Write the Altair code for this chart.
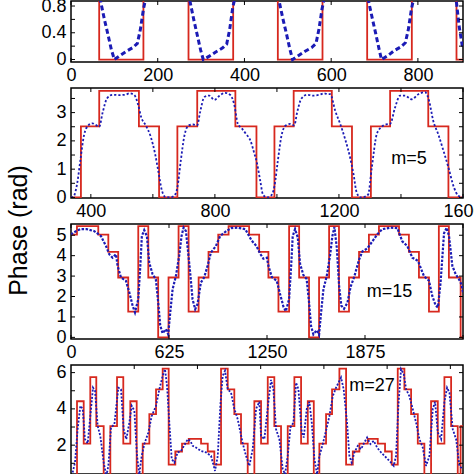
import altair as alt
import pandas as pd

W = 392
RED = "#d7281e"
BLUE = "#1b1bb5"
FONT = "Liberation Sans"

# ---------------- panel 1 ----------------
P1_RED_X = [0, 65, 167, 271, 374, 477, 580, 683, 786, 889, 904]
P1_RED_Y = [1, 0, 1, 0, 1, 0, 1, 0, 1, 0, 0]
P1_BLUE_X = [0, 60, 65, 69, 77, 85, 93, 100, 113, 127, 143, 153, 160, 167, 175,
             266, 271, 275, 283, 291, 299, 305, 319, 333, 349, 359, 366, 373, 381,
             472, 477, 481, 489, 497, 505, 511, 525, 539, 555, 565, 572, 579, 587,
             678, 683, 687, 695, 703, 711, 716, 731, 745, 761, 771, 778, 785, 793,
             884, 889, 895, 902, 904]
P1_BLUE_Y = [1.0, 1.0, 0.97, 0.85, 0.6, 0.38, 0.15, 0.0, 0.06, 0.12, 0.18, 0.24, 0.45, 0.75, 1.0,
             1.0, 0.97, 0.85, 0.6, 0.37, 0.14, 0.0, 0.05, 0.11, 0.17, 0.23, 0.45, 0.78, 1.0,
             1.0, 0.96, 0.84, 0.6, 0.38, 0.15, 0.0, 0.06, 0.12, 0.18, 0.24, 0.46, 0.76, 1.0,
             1.0, 0.97, 0.85, 0.61, 0.38, 0.14, 0.0, 0.06, 0.13, 0.19, 0.25, 0.45, 0.75, 1.0,
             1.0, 0.85, 0.5, 0.22, 0.18]
P1_XLAB = [0, 200, 400, 600, 800]
P1_YLAB = [0, 0.4, 0.8]
P1_YTK = [0, 0.2, 0.4, 0.6, 0.8]

# ---------------- panel 2 ----------------
P2_RED_X = [336, 368, 427, 555, 620, 679, 743, 866, 934, 992, 1054, 1177, 1242, 1303, 1365, 1488, 1553, 1600]
P2_RED_Y = [0, 2.51, 3.77, 2.51, 0, 2.51, 3.77, 2.51, 0, 2.51, 3.77, 2.51, 0, 2.51, 3.77, 2.51, 0, 0]
P2_BLUE_X = [336, 345, 356, 366, 378, 392, 405, 418, 427, 438, 452, 470, 490, 510, 525, 540, 552, 562, 577, 593,
             607, 618, 629, 640, 655, 668,
             679, 690, 702, 716, 730, 743, 752, 766, 782, 798, 815, 832, 850, 862, 874, 886, 900, 915, 926, 936,
             946, 955, 968, 980,
             992, 1003, 1015, 1029, 1043, 1056, 1065, 1079, 1097, 1117, 1137, 1152, 1165, 1172, 1188, 1204, 1220,
             1236, 1247, 1257, 1269, 1282,
             1294, 1306, 1322, 1338, 1352, 1365, 1381, 1397, 1413, 1435, 1456, 1478, 1491, 1504, 1520, 1537, 1553,
             1571, 1585, 1600]
P2_BLUE_Y = [0.0, 0.05, 0.5, 1.3, 2.2, 2.55, 2.62, 2.55, 2.5, 3.0, 3.5, 3.63, 3.62, 3.63, 3.68, 3.62, 3.3, 2.85, 2.55, 2.15,
             1.55, 0.9, 0.25, 0.02, 0.0, 0.05,
             0.35, 1.3, 2.2, 2.55, 2.58, 2.55, 3.0, 3.55, 3.6, 3.45, 3.6, 3.7, 3.62, 3.3, 2.6, 2.45, 2.25, 2.0, 1.6, 1.2,
             0.6, 0.1, 0.0, 0.05,
             0.4, 1.3, 2.2, 2.55, 2.6, 2.55, 3.0, 3.5, 3.63, 3.6, 3.63, 3.68, 3.65, 3.65, 3.06, 2.6, 2.06,
             1.41, 0.82, 0.18, 0.0, 0.02,
             0.1, 1.06, 2.24, 2.5, 2.58, 2.6, 3.18, 3.6, 3.6, 3.47, 3.65, 3.72, 3.4, 2.71, 2.24, 1.65, 1.06,
             0.35, 0.06, 0.0]
P2_XLAB = [400, 800, 1200, 1600]
P2_XTK = [400, 600, 800, 1000, 1200, 1400, 1600]
P2_YLAB = [0, 1, 2, 3]
P2_YTK = [0, 0.5, 1, 1.5, 2, 2.5, 3, 3.5]

# ---------------- panel 3 ----------------
P3_RED_X = [0, 38, 174, 238, 301, 365, 429, 493, 556, 622, 686, 750, 814, 877, 939, 1005, 1136, 1200, 1259, 1323,
            1391, 1455, 1518, 1582, 1646, 1709, 1773, 1837, 1900, 1964, 2092, 2155, 2219, 2283, 2346, 2410, 2485, 2500]
P3_RED_Y = [5.03, 5.45, 5.03, 4.19, 2.93, 1.26, 5.45, 2.93, 0, 2.93, 5.45, 1.26, 2.93, 4.19, 5.03, 5.45, 5.03, 4.19, 2.93, 1.26,
            5.45, 2.93, 0, 2.93, 5.45, 1.26, 2.93, 4.19, 5.03, 5.45, 5.03, 4.19, 2.93, 1.26, 5.45, 2.93, 0, 0]
P3_BLUE_X = [0, 32, 60, 100, 149, 191, 223, 244, 265, 287, 297, 319, 350, 372, 393, 408, 429, 442, 452, 467,
             484, 499, 520, 541, 556, 569, 584, 605, 620, 633, 648, 669, 690, 705, 718, 733, 743, 760, 775, 792,
             807, 828, 849, 871, 892, 924, 951,
             990, 1022, 1062, 1111, 1151, 1183, 1206, 1227, 1249, 1259, 1281, 1312, 1334, 1355, 1370, 1391, 1404, 1414,
             1429, 1446, 1461, 1482, 1503, 1518, 1531, 1546, 1567, 1582, 1595, 1610, 1631, 1652, 1667, 1680, 1695, 1710,
             1724, 1741, 1763, 1784, 1805, 1837, 1858, 1890, 1922, 1954,
             1986, 2039, 2081, 2113, 2145, 2177, 2213, 2251, 2283, 2304, 2326, 2340, 2357, 2379, 2396, 2411, 2432, 2453,
             2474, 2490, 2500]
P3_BLUE_Y = [5.04, 5.2, 5.3, 5.3, 5.2, 4.96, 4.47, 4.07, 3.9, 4.07, 3.5, 2.93, 2.77, 2.2, 1.55, 1.22, 1.87, 3.5, 4.96, 5.25,
             4.96, 3.66, 3.1, 2.85, 1.72, 0.59, 0.2, 0.4, 0.15, 1.22, 2.36, 3.0, 4.0, 4.96, 5.37, 5.2, 4.47, 3.17, 1.87, 1.38,
             1.63, 2.68, 2.93, 3.5, 4.15, 4.47, 4.96,
             5.2, 5.35, 5.37, 5.3, 4.75, 4.47, 4.1, 3.85, 3.9, 3.5, 2.95, 2.77, 2.1, 1.5, 1.28, 1.87, 3.5, 4.96,
             5.3, 4.9, 3.6, 3.05, 2.85, 1.72, 0.55, 0.15, 0.35, 0.12, 1.22, 2.36, 3.0, 4.0, 4.96, 5.4, 4.4, 2.5,
             1.55, 1.4, 1.7, 2.5, 2.93, 3.8, 4.2, 4.36, 4.7, 5.05,
             5.3, 5.37, 5.35, 4.7, 4.47, 3.9, 3.74, 3.0, 2.77, 2.03, 1.55, 1.47, 2.68, 5.1, 5.37, 4.96, 3.5, 3.1,
             2.85, 2.6, 2.2]
P3_XLAB = [0, 625, 1250, 1875]
P3_XTK = [0, 625, 1250, 1875, 2500]
P3_YLAB = [0, 1, 2, 3, 4, 5]

# ---------------- panel 4 ----------------
P4_RED_X = [0, 95, 201, 305, 400, 517, 622, 728, 827, 938, 1039, 1134, 1239, 1345, 1450, 1545, 1650, 1756, 1862, 2057,
            2163, 2267, 2373, 2479, 2583, 2689, 2795, 2900, 3006, 3112, 3216, 3322, 3428, 3533, 3639, 3745, 3840, 3928,
            4034, 4129, 4245, 4351, 4457, 4561, 4694, 4852, 4967, 5073, 5168, 5273, 5379, 5485, 5589, 5695, 5801, 5906,
            6012, 6117, 6162, 6200]
P4_RED_Y = [0, 4.42, 2.09, 5.75, 3.05, 0, 3.05, 5.75, 2.09, 4.42, 0, 2.09, 3.71, 5.08, 6.22, 0.93, 1.65, 2.09, 2.35, 2.09,
            1.65, 0.93, 6.22, 5.08, 3.71, 2.09, 0, 4.42, 2.09, 5.75, 3.05, 0, 3.05, 5.75, 2.09, 4.42, 0, 2.09,
            3.71, 5.08, 6.22, 0.93, 1.65, 2.09, 2.35, 2.09, 1.65, 0.93, 6.22, 5.08, 3.71, 2.09, 0, 4.42, 2.09, 5.75,
            3.05, 0, 3.05, 3.05]
P4_BLUE_X = [26, 63, 105, 148, 185, 221, 264, 306, 348, 380, 422, 464, 517, 559, 591, 633, 686, 749, 791, 833,
             875, 923, 960, 1002, 1044, 1081, 1118, 1160, 1223, 1276, 1345, 1397, 1450, 1487, 1519, 1555, 1593, 1634,
             1687, 1740, 1793, 1846, 1888, 1925, 1977, 2057, 2136, 2215, 2278, 2321, 2362, 2399, 2436, 2479, 2531,
             2583, 2637, 2716, 2768, 2821, 2874, 2927, 2979, 3006, 3058, 3122, 3164, 3201, 3243, 3296, 3349, 3386,
             3428, 3470, 3518, 3560, 3597, 3650, 3681, 3729, 3770, 3808, 3850, 3892, 3929, 3982, 4034, 4087, 4140,
             4192, 4271, 4313, 4366, 4403, 4440, 4482, 4535, 4588, 4640, 4683, 4735, 4788, 4841, 4904, 4983, 5062,
             5104, 5141, 5178, 5220, 5263, 5300, 5352, 5405, 5458, 5511, 5563, 5616, 5669, 5722, 5759, 5801, 5854,
             5906, 5948, 5985, 6038, 6091, 6143, 6196]
P4_BLUE_Y = [0.49, 1.04, 2.88, 4.17, 4.0, 2.33, 2.1, 3.6, 5.17, 5.0, 3.06, 2.5, 1.04, 0.3, 0.86, 2.97, 3.15, 5.17, 5.08, 2.88,
             2.33, 3.24, 4.17, 3.9, 1.41, 0.4, 1.41, 2.06, 2.7, 3.6, 4.17, 5.08, 5.82, 6.19, 5.27, 3.24, 1.23, 1.04,
             1.6, 1.68, 2.0, 2.33, 2.24, 1.96, 1.87, 1.68, 1.6, 1.41, 0.58, 1.41, 4.17, 5.82, 6.1, 5.08, 4.9,
             4.0, 3.43, 2.1, 1.41, 0.86, 1.78, 4.0, 4.39, 2.51, 2.33, 4.39, 5.6, 5.08, 2.88, 2.33, 0.67, 0.4,
             1.41, 2.97, 3.24, 5.45, 5.08, 2.7, 2.42, 4.0, 4.39, 3.24, 1.23, 0.4, 1.41, 2.06, 2.8, 3.6, 4.7,
             5.17, 5.73, 5.08, 3.24, 1.41, 1.04, 1.6, 1.96, 1.78, 2.15, 2.42, 2.06, 2.24, 1.87, 1.6, 1.32, 1.04,
             0.86, 1.41, 4.17, 6.19, 5.92, 5.08, 4.7, 4.0, 3.24, 2.33, 1.87, 0.86, 1.41, 4.0, 4.39, 2.7, 2.33,
             4.39, 5.17, 4.9, 2.88, 2.33, 0.86, 0.67]
P4_XTK = [1000, 2000, 3000, 4000, 5000, 6000]
P4_YLAB = [2, 4, 6]
P4_YTK = [1, 2, 3, 4, 5, 6]

NOTES = [("m=5", 1426, 1.37), ("m=15", 2032, 2.2), ("m=27", 4762, 5.27)]
YTITLE = "Phase (rad)"

LBL = "'' + datum.value"


def panel(h, xdom, ydom, rx, ry, bx, by, bw, bdash, binterp, xlab, xtk, ylab, ytk,
          note=None, bottom_ticks=True, ytitle=None, title_y=0):
    xs = alt.Scale(domain=xdom, nice=False, zero=False)
    ys = alt.Scale(domain=ydom, nice=False, zero=False)
    if xlab:
        xax = alt.Axis(values=xlab, title=None, ticks=False, domain=False, grid=False,
                       labelPadding=4, labelExpr=LBL, labelFlush=False)
    else:
        xax = None
    if ytitle:
        yax = alt.Axis(values=ylab, ticks=False, domain=False, grid=False,
                       labelPadding=5, labelExpr=LBL, labelFlush=False,
                       title=ytitle, titleFontSize=25, titleFontWeight="normal", titleFont=FONT,
                       titleColor="black", titleAngle=270, titleX=-53, titleY=title_y,
                       titleAlign="center", titleBaseline="middle")
    else:
        yax = alt.Axis(values=ylab, title=None, ticks=False, domain=False, grid=False,
                       labelPadding=5, labelExpr=LBL, labelFlush=False)
    red = alt.Chart(pd.DataFrame({"x": rx, "y": ry})).mark_line(
        color=RED, strokeWidth=1.8, interpolate="step-after", clip=True
    ).encode(x=alt.X("x:Q", scale=xs, axis=xax), y=alt.Y("y:Q", scale=ys, axis=yax))
    blue = alt.Chart(pd.DataFrame({"x": bx, "y": by})).mark_line(
        color=BLUE, strokeWidth=bw, strokeDash=bdash, interpolate=binterp, clip=True
    ).encode(x=alt.X("x:Q", scale=xs, axis=xax), y=alt.Y("y:Q", scale=ys, axis=yax))
    layers = [red, blue]
    xt = pd.DataFrame({"x": xtk})
    yt = pd.DataFrame({"y": ytk})
    tick = dict(color="black", strokeWidth=1)
    layers.append(alt.Chart(xt).mark_rule(**tick).encode(
        x=alt.X("x:Q", scale=xs, axis=xax), y=alt.value(0), y2=alt.value(4)))
    if bottom_ticks:
        layers.append(alt.Chart(xt).mark_rule(**tick).encode(
            x=alt.X("x:Q", scale=xs, axis=xax), y=alt.value(h - 4), y2=alt.value(h)))
    layers.append(alt.Chart(yt).mark_rule(**tick).encode(
        y=alt.Y("y:Q", scale=ys, axis=yax), x=alt.value(0), x2=alt.value(4)))
    layers.append(alt.Chart(yt).mark_rule(**tick).encode(
        y=alt.Y("y:Q", scale=ys, axis=yax), x=alt.value(W - 4), x2=alt.value(W)))
    if note:
        layers.append(alt.Chart(pd.DataFrame({"t": [note[0]], "x": [note[1]], "y": [note[2]]})).mark_text(
            fontSize=18, color="black", align="center", baseline="middle"
        ).encode(x=alt.X("x:Q", scale=xs, axis=xax), y=alt.Y("y:Q", scale=ys, axis=yax), text="t:N"))
    return alt.layer(*layers).properties(width=W, height=h)


p1 = panel(61, [0, 904], [-0.037, 0.875], P1_RED_X, P1_RED_Y, P1_BLUE_X, P1_BLUE_Y,
           3, [5, 3], "linear", P1_XLAB, P1_XLAB, P1_YLAB, P1_YTK)
p2 = panel(110, [336, 1600], [-0.02, 3.87], P2_RED_X, P2_RED_Y, P2_BLUE_X, P2_BLUE_Y,
           1.8, [2.2, 2], "monotone", P2_XLAB, P2_XTK, P2_YLAB, P2_YTK, note=NOTES[0],
           ytitle=YTITLE, title_y=142)
p3 = panel(115, [0, 2500], [-0.08, 5.55], P3_RED_X, P3_RED_Y, P3_BLUE_X, P3_BLUE_Y,
           2.2, [2.5, 1.5], "linear", P3_XLAB, P3_XTK, P3_YLAB, P3_YLAB, note=NOTES[1])
p4 = panel(109, [0, 6200], [0.41, 6.42], P4_RED_X, P4_RED_Y, P4_BLUE_X, P4_BLUE_Y,
           1.8, [2, 1.6], "linear", None, P4_XTK, P4_YLAB, P4_YTK, note=NOTES[2], bottom_ticks=False)

chart = alt.vconcat(p1, p2, p3, p4, spacing=26, bounds="flush").properties(
    padding={"left": 5, "top": -4, "right": -10, "bottom": 0},
    background="white",
).configure_view(stroke="black", strokeWidth=1.5).configure_axis(
    labelFont=FONT, labelFontSize=18, labelColor="black"
).configure_text(font=FONT)

chart.save("out.html", embed_options={"renderer": "svg", "actions": False})
